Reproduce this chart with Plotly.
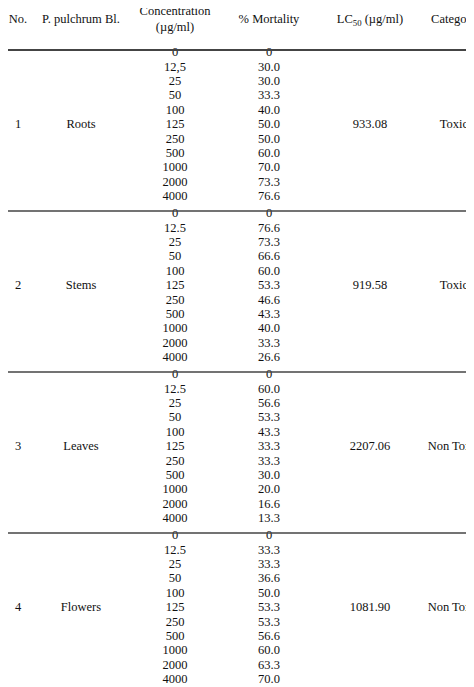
import plotly.graph_objects as go

numbers = ["1", "2", "3", "4"]
parts = ["Roots", "Stems", "Leaves", "Flowers"]
concentrations = [
    ["0", "12,5", "25", "50", "100", "125", "250", "500", "1000", "2000", "4000"],
    ["0", "12.5", "25", "50", "100", "125", "250", "500", "1000", "2000", "4000"],
    ["0", "12.5", "25", "50", "100", "125", "250", "500", "1000", "2000", "4000"],
    ["0", "12.5", "25", "50", "100", "125", "250", "500", "1000", "2000", "4000"],
]
mortality = [
    ["0", "30.0", "30.0", "33.3", "40.0", "50.0", "50.0", "60.0", "70.0", "73.3", "76.6"],
    ["0", "76.6", "73.3", "66.6", "60.0", "53.3", "46.6", "43.3", "40.0", "33.3", "26.6"],
    ["0", "60.0", "56.6", "53.3", "43.3", "33.3", "33.3", "30.0", "20.0", "16.6", "13.3"],
    ["0", "33.3", "33.3", "36.6", "50.0", "53.3", "53.3", "56.6", "60.0", "63.3", "70.0"],
]
lc50 = ["933.08", "919.58", "2207.06", "1081.90"]
category = ["Toxic", "Toxic", "Non Toxic", "Non Toxic"]
headers = ["No.", "P. pulchrum Bl.", "Concentration<br>(µg/ml)", "% Mortality",
           "LC<sub>50</sub> (µg/ml)", "Category"]

col_x = [10, 73, 167, 261, 362, 446]
header_y = 12
first_row = 45
row_h = 14.4
group_h = 161
line_y0 = 42
font = dict(family="Liberation Serif, Times New Roman, serif", size=12.5, color="#111")

xs, ys, texts = [], [], []
for g in range(4):
    y0 = first_row + g * group_h
    for r in range(11):
        y = y0 + r * row_h
        xs += [col_x[2], col_x[3]]
        ys += [y, y]
        texts += [concentrations[g][r], mortality[g][r]]
    ym = y0 + 5 * row_h
    xs += [col_x[0], col_x[1], col_x[4], col_x[5]]
    ys += [ym] * 4
    texts += [numbers[g], parts[g], lc50[g], category[g]]

xs += col_x
ys += [header_y] * len(headers)
texts += headers

fig = go.Figure(go.Scatter(x=xs, y=ys, text=texts, mode="text", cliponaxis=False,
                           textfont=font, hoverinfo="skip"))

for g in range(4):
    ly = line_y0 + g * group_h
    fig.add_shape(type="line", x0=0, x1=474, y0=ly, y1=ly,
                  line=dict(color="#444", width=2 if g == 0 else 1.5))

fig.update_layout(
    width=474, height=687, margin=dict(l=0, r=0, t=0, b=0),
    paper_bgcolor="white", plot_bgcolor="white", showlegend=False,
    xaxis=dict(range=[0, 474], visible=False, fixedrange=True),
    yaxis=dict(range=[687, 0], visible=False, fixedrange=True),
)
fig.write_html("out.html")
